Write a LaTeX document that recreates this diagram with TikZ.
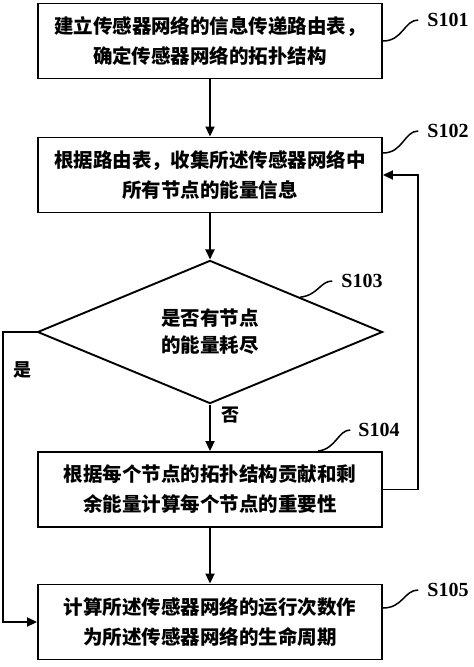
\documentclass[tikz,border=0pt]{standalone}
\usepackage{fontspec}
\setmainfont{Liberation Serif}
\newfontfamily\cjk{Noto Sans CJK SC}
\usetikzlibrary{shapes.geometric,arrows.meta}
\begin{document}
\begin{tikzpicture}[x=1pt,y=-1pt,
  box/.style={draw,line width=1.9pt,minimum width=344pt,minimum height=75pt,inner sep=0pt,align=center,font=\cjk\bfseries\fontsize{19.5}{30}\selectfont},
  decision/.style={draw,diamond,line width=1.9pt,minimum width=345pt,minimum height=119pt,inner sep=0pt,align=center,font=\cjk\bfseries\fontsize{19.5}{27}\selectfont},
  steplabel/.style={font=\bfseries\fontsize{20}{20}\selectfont,inner sep=0pt},
  answer/.style={font=\cjk\bfseries\fontsize{18}{18}\selectfont,inner sep=0pt},
  arr/.style={-{Triangle[length=10pt,width=9pt]},line width=1.9pt},
  tie/.style={line width=1.5pt}]
\useasboundingbox (0,0) rectangle (474,667);
\node[box] (b1) at (210,41) {建立传感器网络的信息传递路由表，\\确定传感器网络的拓扑结构};
\node[box] (b2) at (210,175) {根据路由表，收集所述传感器网络中\\所有节点的能量信息};
\node[decision] (dia) at (210,332) {是否有节点\\的能量耗尽};
\node[box] (b4) at (210,489.5) {根据每个节点的拓扑结构贡献和剩\\余能量计算每个节点的重要性};
\node[box] (b5) at (210,622) {计算所述传感器网络的运行次数作\\为所述传感器网络的生命周期};
\node[steplabel] (l1) at (448,20) {S101};
\node[steplabel] (l2) at (448,131) {S102};
\node[steplabel] (l3) at (362,281) {S103};
\node[steplabel] (l4) at (379,430) {S104};
\node[steplabel] (l5) at (448,590) {S105};
\node[answer] (yes) at (22,370) {是};
\node[answer] (no) at (230,415) {否};
\path (dia.north) -- (dia.east) coordinate[pos=0.52] (t3);
\draw[arr] (b1.south) -- (b2.north);
\draw[arr] (b2.south) -- (dia.north);
\draw[arr] (dia.south) -- (b4.north);
\draw[arr] (b4.south) -- (b5.north);
\draw[arr] (b4.east) -- ++(35,0) |- (b2.east);
\draw[arr] (dia.west) -- ++(-34,0) |- (b5.west);
\draw[tie] (b1.east) .. controls +(20,0) and +(-14,0) .. ([xshift=-9pt]l1.west);
\draw[tie] ([yshift=22pt]b2.east) .. controls +(20,0) and +(-14,0) .. ([xshift=-9pt]l2.west);
\draw[tie] (t3) .. controls +(18,-2) and +(-12,0) .. ([xshift=-9pt]l3.west);
\draw[tie] ([xshift=108pt]b4.north) .. controls +(18,-2) and +(-12,0) .. ([xshift=-8pt]l4.west);
\draw[tie] ([yshift=14pt]b5.east) .. controls +(20,0) and +(-14,0) .. ([xshift=-9pt]l5.west);
\end{tikzpicture}
\end{document}
